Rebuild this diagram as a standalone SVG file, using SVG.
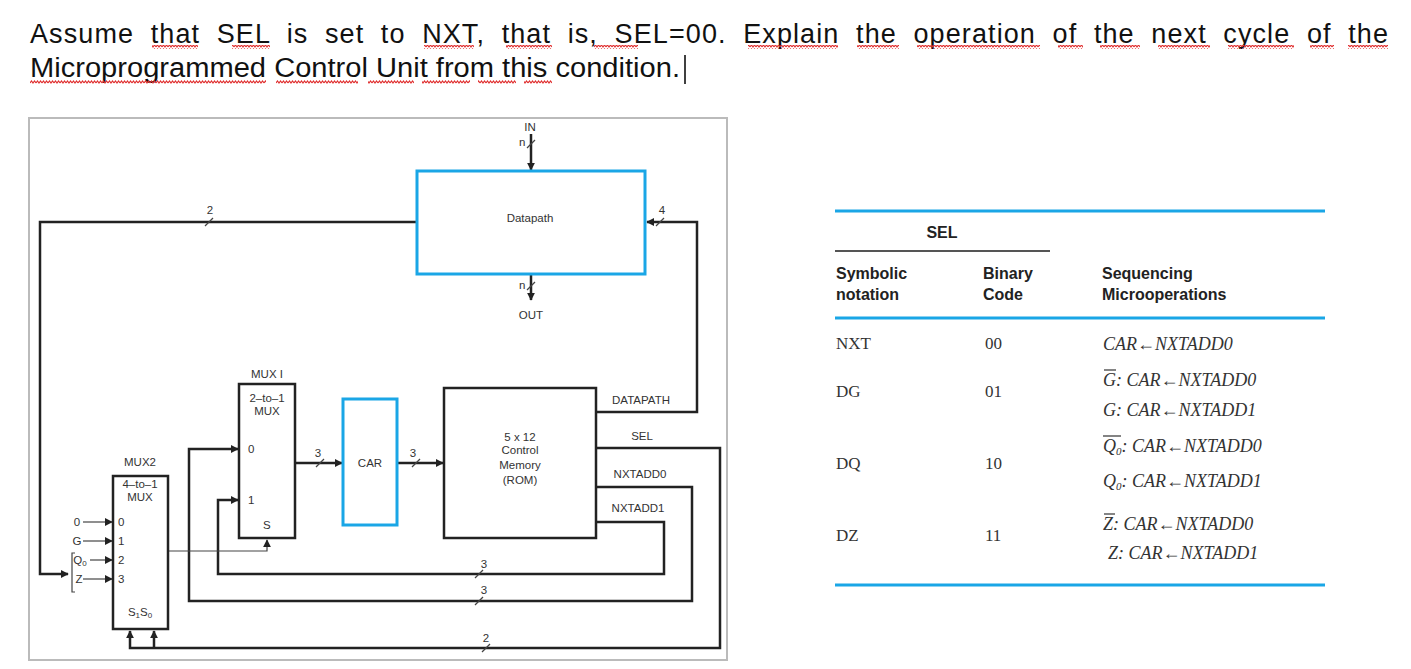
<svg xmlns="http://www.w3.org/2000/svg" width="1411" height="669" viewBox="0 0 1411 669">
<defs>
<marker id="ah" viewBox="0 0 10 10" refX="9" refY="5" markerWidth="8" markerHeight="8" markerUnits="userSpaceOnUse" orient="auto"><path d="M0,0 L10,5 L0,10 z" fill="#222"/></marker>
<pattern id="wv" width="6" height="4" patternUnits="userSpaceOnUse"><path d="M0,3 L1.5,1 L3,3 L4.5,1 L6,3" fill="none" stroke="#e03030" stroke-width="1.2"/></pattern>
</defs>
<style>
.q{font-family:"Liberation Sans",Arial,sans-serif;font-size:27px;fill:#111}
.s{font-family:"Liberation Sans",Arial,sans-serif;font-size:11.5px;fill:#333}
.h{font-family:"Liberation Sans",Arial,sans-serif;font-size:16px;font-weight:bold;fill:#222}
.t{font-family:"Liberation Serif","Times New Roman",serif;font-size:17px;fill:#333}
.m{font-family:"Liberation Serif","Times New Roman",serif;font-size:18px;font-style:italic;fill:#333}
.w{stroke:#222;stroke-width:2.5;fill:none}
.thin{stroke:#444;stroke-width:1.2;fill:none}
.box{stroke:#222;stroke-width:2.5;fill:#fff}
.blue{stroke:#1aa6e6;stroke-width:3;fill:#fff}
.bl{stroke:#1aa6e6;stroke-width:3}
</style>
<rect width="1411" height="669" fill="#fff"/>
<g id="question">
<text class="q" x="30" y="43" word-spacing="8" textLength="1358" lengthAdjust="spacing">Assume that SEL is set to NXT, that is, SEL=00. Explain the operation of the next cycle of the</text>
<text class="q" x="30" y="77" textLength="650" lengthAdjust="spacingAndGlyphs">Microprogrammed Control Unit from this condition.</text>
<line x1="685" y1="55" x2="685" y2="84" stroke="#000" stroke-width="1.5"/>
<g fill="url(#wv)">
<rect x="152" y="45" width="46" height="4"/><rect x="232" y="45" width="38" height="4"/><rect x="424" y="45" width="50" height="4"/><rect x="506" y="45" width="46" height="4"/><rect x="594" y="45" width="44" height="4"/><rect x="748" y="45" width="90" height="4"/><rect x="857" y="45" width="42" height="4"/><rect x="917" y="45" width="123" height="4"/><rect x="1058" y="45" width="25" height="4"/><rect x="1100" y="45" width="40" height="4"/><rect x="1158" y="45" width="52" height="4"/><rect x="1228" y="45" width="66" height="4"/><rect x="1310" y="45" width="24" height="4"/><rect x="1348" y="45" width="40" height="4"/>
<rect x="30" y="80" width="236" height="4"/><rect x="276" y="80" width="82" height="4"/><rect x="368" y="80" width="46" height="4"/><rect x="422" y="80" width="48" height="4"/><rect x="478" y="80" width="38" height="4"/><rect x="524" y="80" width="28" height="4"/>
</g>
</g>
<rect x="29" y="118" width="698" height="542" fill="none" stroke="#bbb" stroke-width="2"/>
<g id="connectors">
<line class="w" x1="531" y1="134" x2="531" y2="170" marker-end="url(#ah)"/>
<line class="w" x1="531" y1="275" x2="531" y2="300" marker-end="url(#ah)"/>
<polyline class="w" points="417,222 40,222 40,574 68,574" marker-end="url(#ah)"/>
<polyline class="w" points="596,412 697,412 697,222 647,222" marker-end="url(#ah)"/>
<line class="w" x1="295" y1="463" x2="342" y2="463" marker-end="url(#ah)"/>
<line class="w" x1="397" y1="463" x2="443" y2="463" marker-end="url(#ah)"/>
<polyline class="w" points="596,448 720,448 720,648 130,648 130,631" marker-end="url(#ah)"/>
<line class="w" x1="154" y1="648" x2="154" y2="631" marker-end="url(#ah)"/>
<polyline class="w" points="596,487 692,487 692,601 189,601 189,449 238,449" marker-end="url(#ah)"/>
<polyline class="w" points="596,522 664,522 664,574 218,574 218,500 238,500" marker-end="url(#ah)"/>
<polyline class="thin" points="168,551 267,551 267,540" marker-end="url(#ah)"/>
<g class="thin">
<line x1="83" y1="522" x2="112" y2="522" marker-end="url(#ah)"/>
<line x1="83" y1="541" x2="112" y2="541" marker-end="url(#ah)"/>
<line x1="90" y1="560" x2="112" y2="560" marker-end="url(#ah)"/>
<line x1="83" y1="579" x2="112" y2="579" marker-end="url(#ah)"/>
<polyline points="75,553 72,553 72,592 75,592"/>
<line x1="527" y1="148" x2="535" y2="140"/><line x1="527" y1="290" x2="535" y2="282"/>
<line x1="205" y1="226" x2="213" y2="218"/><line x1="656" y1="226" x2="664" y2="218"/>
<line x1="316" y1="467" x2="324" y2="459"/><line x1="412" y1="467" x2="420" y2="459"/>
<line x1="475" y1="578" x2="483" y2="570"/><line x1="475" y1="605" x2="483" y2="597"/><line x1="482" y1="652" x2="490" y2="644"/>
</g>
<g class="s">
<text x="530" y="131" text-anchor="middle">IN</text>
<text x="519" y="146">n</text><text x="519" y="289">n</text>
<text x="531" y="319" text-anchor="middle">OUT</text>
<text x="210" y="214" text-anchor="middle">2</text><text x="662" y="214" text-anchor="middle">4</text>
<text x="318" y="457" text-anchor="middle">3</text><text x="413" y="457" text-anchor="middle">3</text>
<text x="484" y="568" text-anchor="middle">3</text><text x="484" y="594" text-anchor="middle">3</text><text x="486" y="642" text-anchor="middle">2</text>
<text x="641" y="404" text-anchor="middle">DATAPATH</text>
<text x="642" y="440" text-anchor="middle">SEL</text>
<text x="640" y="478" text-anchor="middle">NXTADD0</text>
<text x="638" y="512" text-anchor="middle">NXTADD1</text>
<text x="77" y="526" text-anchor="middle">0</text><text x="77" y="545" text-anchor="middle">G</text>
<text x="80" y="564" text-anchor="middle">Q<tspan font-size="8" dy="2">0</tspan></text><text x="79" y="583" text-anchor="middle">Z</text>
</g>
</g>
<g id="datapath"><rect class="blue" x="417" y="171" width="228" height="103"/><text class="s" x="530" y="222" text-anchor="middle">Datapath</text></g>
<g id="mux1"><rect class="box" x="239" y="384" width="56" height="154"/>
<g class="s" text-anchor="middle"><text x="267" y="378">MUX I</text><text x="267" y="402">2–to–1</text><text x="267" y="415">MUX</text></g>
<g class="s"><text x="248" y="453">0</text><text x="248" y="504">1</text><text x="263" y="529">S</text></g></g>
<g id="mux2"><rect class="box" x="113" y="476" width="55" height="153"/>
<g class="s" text-anchor="middle"><text x="140" y="466">MUX2</text><text x="140" y="488">4–to–1</text><text x="140" y="501">MUX</text><text x="140" y="616">S<tspan font-size="8" dy="2">1</tspan><tspan dy="-2">S</tspan><tspan font-size="8" dy="2">0</tspan></text></g>
<g class="s"><text x="118" y="526">0</text><text x="118" y="545">1</text><text x="118" y="564">2</text><text x="118" y="583">3</text></g></g>
<g id="car"><rect class="blue" x="343" y="399" width="54" height="126"/><text class="s" x="370" y="467" text-anchor="middle">CAR</text></g>
<g id="rom"><rect class="box" x="444" y="388" width="152" height="150"/>
<g class="s" text-anchor="middle"><text x="520" y="441">5 x 12</text><text x="520" y="454">Control</text><text x="520" y="469">Memory</text><text x="520" y="484">(ROM)</text></g></g>
<g id="table">
<line class="bl" x1="835" y1="211" x2="1325" y2="211"/>
<line class="bl" x1="835" y1="318" x2="1325" y2="318"/>
<line class="bl" x1="835" y1="585" x2="1325" y2="585"/>
<line x1="835" y1="251" x2="1050" y2="251" stroke="#555" stroke-width="2"/>
<text class="h" x="942" y="238" text-anchor="middle">SEL</text>
<text class="h" x="836" y="279">Symbolic</text><text class="h" x="836" y="300">notation</text>
<text class="h" x="983" y="279">Binary</text><text class="h" x="983" y="300">Code</text>
<text class="h" x="1102" y="279">Sequencing</text><text class="h" x="1102" y="300">Microoperations</text>
<text class="t" x="836" y="349">NXT</text><text class="t" x="985" y="349">00</text>
<text class="t" x="836" y="397">DG</text><text class="t" x="985" y="397">01</text>
<text class="t" x="836" y="469">DQ</text><text class="t" x="985" y="469">10</text>
<text class="t" x="836" y="541">DZ</text><text class="t" x="985" y="541">11</text>
<g class="m">
<text x="1103" y="350">CAR←NXTADD0</text>
<text x="1103" y="386">G: CAR←NXTADD0</text>
<text x="1103" y="416">G: CAR←NXTADD1</text>
<text x="1103" y="452">Q<tspan font-size="11" dy="3">0</tspan><tspan dy="-3">: CAR←NXTADD0</tspan></text>
<text x="1103" y="487">Q<tspan font-size="11" dy="3">0</tspan><tspan dy="-3">: CAR←NXTADD1</tspan></text>
<text x="1103" y="530">Z:  CAR←NXTADD0</text>
<text x="1108" y="559">Z: CAR←NXTADD1</text>
</g>
<g stroke="#333" stroke-width="1.2"><line x1="1104" y1="370" x2="1116" y2="370"/><line x1="1103" y1="436" x2="1121" y2="436"/><line x1="1104" y1="514" x2="1115" y2="514"/></g>
</g>
</svg>
